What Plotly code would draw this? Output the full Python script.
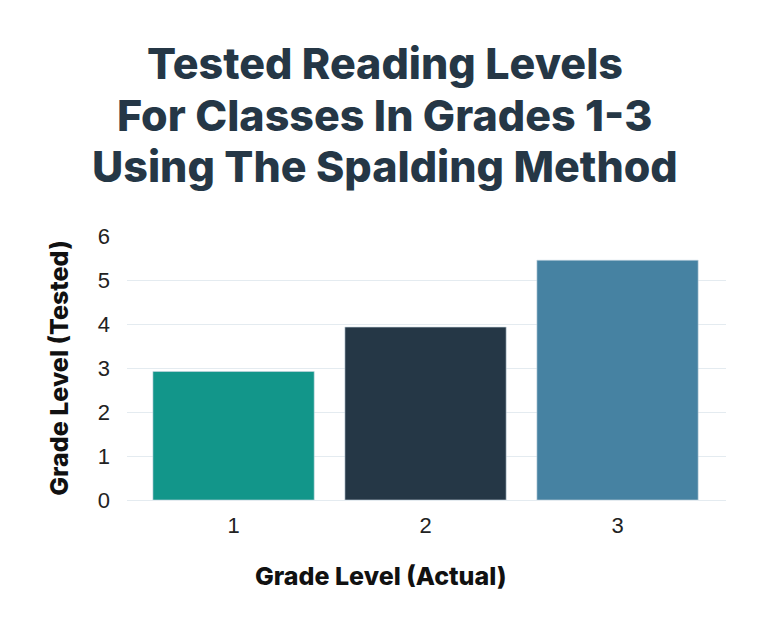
import plotly.graph_objects as go

# data
grades = ["1", "2", "3"]
tested_levels = [2.92, 3.93, 5.45]
bar_colors = ["#12968a", "#253746", "#4682a2"]

title_lines = [
    "Tested Reading Levels",
    "For Classes In Grades 1-3",
    "Using The Spalding Method",
]
title_y = [1.654, 1.458, 1.265]  # paper coords of each title line

heading_font = "Inter, Open Sans, sans-serif"
tick_font = dict(family="Liberation Sans, Arial, sans-serif", size=22, color="#222222")

fig = go.Figure()

fig.add_trace(
    go.Bar(
        x=grades,
        y=tested_levels,
        marker=dict(
            color=bar_colors,
            line=dict(color="rgba(200,215,225,0.6)", width=1),
        ),
        hoverinfo="x+y",
    )
)

for line, yy in zip(title_lines, title_y):
    fig.add_annotation(
        text=line,
        xref="paper",
        yref="paper",
        x=0.43,
        y=yy,
        xanchor="center",
        yanchor="middle",
        showarrow=False,
        font=dict(family=heading_font, size=43, color="#253746", weight=800),
    )

# x axis title sits centred on the page rather than on the plot area
fig.add_annotation(
    text="Grade Level (Actual)",
    xref="paper",
    yref="paper",
    x=0.424,
    y=-0.289,
    xanchor="center",
    yanchor="middle",
    showarrow=False,
    font=dict(family=heading_font, size=25, color="#111111", weight=800),
)

fig.update_layout(
    width=768,
    height=636,
    paper_bgcolor="white",
    plot_bgcolor="white",
    showlegend=False,
    bargap=0.16,
    margin=dict(l=119, r=50, t=228, b=144),
    xaxis=dict(
        type="category",
        range=[-0.555, 2.565],
        showgrid=False,
        showline=False,
        ticks="",
        ticklabelstandoff=10,
        tickfont=tick_font,
    ),
    yaxis=dict(
        range=[0, 6],
        dtick=1,
        showgrid=True,
        gridcolor="#e4ebf0",
        gridwidth=1,
        zeroline=True,
        zerolinecolor="#e4ebf0",
        zerolinewidth=1,
        showline=False,
        ticks="",
        ticklabelstandoff=16,
        tickfont=tick_font,
        title=dict(
            text="Grade Level (Tested)",
            font=dict(family=heading_font, size=25, color="#111111", weight=800),
            standoff=22,
        ),
    ),
)

fig.write_html("out.html")
